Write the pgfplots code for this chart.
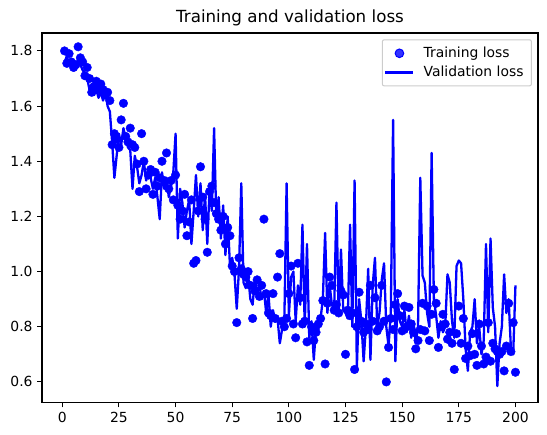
\documentclass[border=0pt]{standalone}
\usepackage{pgfplots}
\pgfplotsset{compat=1.18}
\usepackage{fontspec}
\setmainfont{DejaVu Sans}
\begin{document}
\begin{tikzpicture}
\useasboundingbox (-42pt,-32.4pt) rectangle (505pt,402.6pt);
\begin{axis}[
  scale only axis,
  width=496pt, height=369.6pt,
  xmin=-8.95, xmax=209.95,
  ymin=0.525, ymax=1.865,
  xtick={0,25,50,75,100,125,150,175,200},
  ytick={0.6,0.8,1.0,1.2,1.4,1.6,1.8},
  yticklabel style={/pgf/number format/fixed, /pgf/number format/fixed zerofill, /pgf/number format/precision=1, xshift=-1pt},
  /pgf/number format/assume math mode=true,
  tick pos=left,
  tick align=outside,
  major tick length=4.9pt,
  tick style={black, line width=1.1pt},
  axis line style={black, line width=1.1pt},
  ticklabel style={font=\fontsize{13.9}{16}\selectfont},
  xticklabel style={yshift=-1pt},
  title={Training and validation loss},
  title style={font=\fontsize{16.7}{20}\selectfont, at={(0.5,1)}, anchor=south, yshift=-3pt},
  legend style={at={(0.9879,0.983)}, anchor=north east, draw={rgb,255:red,204;green,204;blue,204}, line width=1pt,
    rounded corners=2pt, fill=white, fill opacity=0.8, text opacity=1,
    font=\fontsize{13.9}{16}\selectfont, row sep=3pt, inner xsep=2pt, inner ysep=5.5pt,
    nodes={inner sep=2pt}},
  legend cell align=left,
]
\addplot[only marks, mark=*, mark size=4.3pt, color=blue, mark options={draw=blue, fill=blue},
  legend image code/.code={\path (35pt,0pt); \fill[blue] (14pt,0pt) circle (4.3pt);}] coordinates {
(1,1.80)(2,1.755)(3,1.79)(4,1.76)(5,1.74)(6,1.75)(7,1.815)(8,1.775)(9,1.76)(10,1.71)
(11,1.74)(12,1.70)(13,1.65)(14,1.67)(15,1.69)(16,1.66)(17,1.68)(18,1.66)(19,1.64)(20,1.65)
(21,1.62)(22,1.46)(23,1.50)(24,1.48)(25,1.45)(26,1.55)(27,1.61)(28,1.49)(29,1.47)(30,1.52)
(31,1.46)(32,1.45)(33,1.39)(34,1.29)(35,1.50)(36,1.40)(37,1.30)(38,1.35)(39,1.37)(40,1.28)
(41,1.36)(42,1.31)(43,1.34)(44,1.40)(45,1.33)(46,1.43)(47,1.30)(48,1.33)(49,1.26)(50,1.35)
(51,1.24)(52,1.19)(53,1.22)(54,1.28)(55,1.13)(56,1.18)(57,1.26)(58,1.03)(59,1.04)(60,1.22)
(61,1.38)(62,1.27)(63,1.19)(64,1.07)(65,1.29)(66,1.31)(67,1.25)(68,1.21)(69,1.19)(70,1.15)
(71,1.20)(72,1.10)(73,1.16)(74,1.13)(75,1.02)(76,1.00)(77,0.815)(78,1.05)(79,1.01)(80,0.99)
(81,0.98)(82,1.00)(83,0.95)(84,0.83)(85,0.93)(86,0.97)(87,0.91)(88,0.95)(89,1.19)(90,0.92)
(91,0.85)(92,0.84)(93,0.92)(94,0.83)(95,0.98)(96,1.065)(97,0.82)(98,0.80)(99,0.83)(100,0.92)
(101,1.02)(102,0.81)(103,0.76)(104,1.03)(105,0.905)(106,0.81)(107,0.82)(108,0.745)(109,0.66)(110,0.80)
(111,0.75)(112,0.78)(113,0.81)(114,0.83)(115,0.895)(116,0.665)(117,0.885)(118,0.98)(119,0.95)(120,0.86)
(121,0.88)(122,0.85)(123,0.93)(124,0.915)(125,0.70)(126,0.86)(127,0.84)(128,0.85)(129,0.645)(130,0.80)
(131,0.925)(132,0.82)(133,0.78)(134,0.81)(135,0.79)(136,0.95)(137,0.82)(138,0.905)(139,0.785)(140,0.80)
(141,0.95)(142,0.82)(143,0.60)(144,0.725)(145,0.83)(146,0.79)(147,0.88)(148,0.92)(149,0.84)(150,0.785)
(151,0.875)(152,0.80)(153,0.87)(154,0.81)(155,0.78)(156,0.72)(157,0.75)(158,0.79)(159,0.885)(160,0.785)
(161,0.875)(162,0.75)(163,0.845)(164,0.935)(165,0.885)(166,0.725)(167,0.80)(168,0.845)(169,0.81)(170,0.755)
(171,0.78)(172,0.74)(173,0.645)(174,0.775)(175,0.875)(176,0.74)(177,0.83)(178,0.685)(179,0.73)(180,0.695)
(181,0.775)(182,0.70)(183,0.66)(184,0.81)(185,0.73)(186,0.665)(187,0.69)(188,0.815)(189,0.675)(190,0.74)
(191,0.72)(192,0.71)(193,0.70)(194,0.71)(195,0.64)(196,0.73)(197,0.885)(198,0.71)(199,0.815)(200,0.635)
};
\addlegendentry{Training loss\kern4pt}
\addplot[color=blue, line width=2.3pt, line join=round, mark=none,
  legend image code/.code={\path (35pt,0pt); \draw[blue, line width=2.3pt] (0pt,0pt) -- (28pt,0pt);}] coordinates {
(1,1.76)(2,1.78)(3,1.75)(4,1.76)(5,1.73)(6,1.74)(7,1.77)(8,1.75)(9,1.73)(10,1.72)
(11,1.70)(12,1.66)(13,1.68)(14,1.64)(15,1.66)(16,1.63)(17,1.65)(18,1.62)(19,1.65)(20,1.60)
(21,1.58)(22,1.47)(23,1.34)(24,1.42)(25,1.50)(26,1.46)(27,1.52)(28,1.48)(29,1.45)(30,1.44)
(31,1.30)(32,1.42)(33,1.38)(34,1.32)(35,1.35)(36,1.40)(37,1.33)(38,1.36)(39,1.34)(40,1.30)
(41,1.34)(42,1.27)(43,1.19)(44,1.36)(45,1.30)(46,1.34)(47,1.27)(48,1.31)(49,1.36)(50,1.50)
(51,1.12)(52,1.30)(53,1.25)(54,1.16)(55,1.22)(56,1.26)(57,1.10)(58,1.22)(59,1.35)(60,1.20)
(61,1.32)(62,1.15)(63,1.28)(64,1.10)(65,1.30)(66,1.22)(67,1.52)(68,1.18)(69,1.27)(70,1.12)
(71,1.24)(72,1.06)(73,1.20)(74,1.02)(75,1.05)(76,0.99)(77,0.865)(78,1.01)(79,1.32)(80,0.96)
(81,0.94)(82,0.99)(83,0.90)(84,0.88)(85,0.97)(86,0.92)(87,0.95)(88,0.90)(89,0.93)(90,0.85)
(91,0.92)(92,0.80)(93,0.86)(94,0.82)(95,0.83)(96,0.74)(97,0.79)(98,0.82)(99,1.32)(100,0.84)
(101,0.98)(102,1.00)(103,0.82)(104,0.95)(105,0.88)(106,1.17)(107,0.80)(108,1.10)(109,0.76)(110,0.82)
(111,0.68)(112,0.80)(113,0.79)(114,0.83)(115,0.90)(116,1.14)(117,0.85)(118,0.95)(119,0.88)(120,0.86)
(121,1.25)(122,0.84)(123,1.08)(124,0.86)(125,0.85)(126,0.83)(127,1.17)(128,0.80)(129,1.33)(130,0.65)
(131,0.90)(132,0.82)(133,0.675)(134,0.80)(135,1.01)(136,0.68)(137,0.95)(138,1.05)(139,0.80)(140,0.85)
(141,0.97)(142,1.03)(143,0.80)(144,0.73)(145,0.85)(146,1.55)(147,0.675)(148,0.90)(149,0.82)(150,0.80)
(151,0.86)(152,0.78)(153,0.84)(154,0.76)(155,0.82)(156,0.74)(157,0.80)(158,1.34)(159,0.985)(160,0.96)
(161,0.85)(162,0.80)(163,1.43)(164,0.90)(165,0.84)(166,0.76)(167,0.82)(168,0.78)(169,0.80)(170,0.99)
(171,0.96)(172,0.82)(173,0.76)(174,1.02)(175,1.04)(176,1.03)(177,0.90)(178,0.72)(179,0.64)(180,0.78)
(181,0.80)(182,0.90)(183,0.74)(184,0.80)(185,0.70)(186,0.75)(187,1.10)(188,0.78)(189,1.12)(190,0.87)
(191,0.80)(192,0.585)(193,0.74)(194,0.80)(195,0.99)(196,0.85)(197,0.90)(198,0.72)(199,0.70)(200,0.95)
};
\addlegendentry{Validation loss\kern4pt}
\end{axis}
\end{tikzpicture}
\end{document}
